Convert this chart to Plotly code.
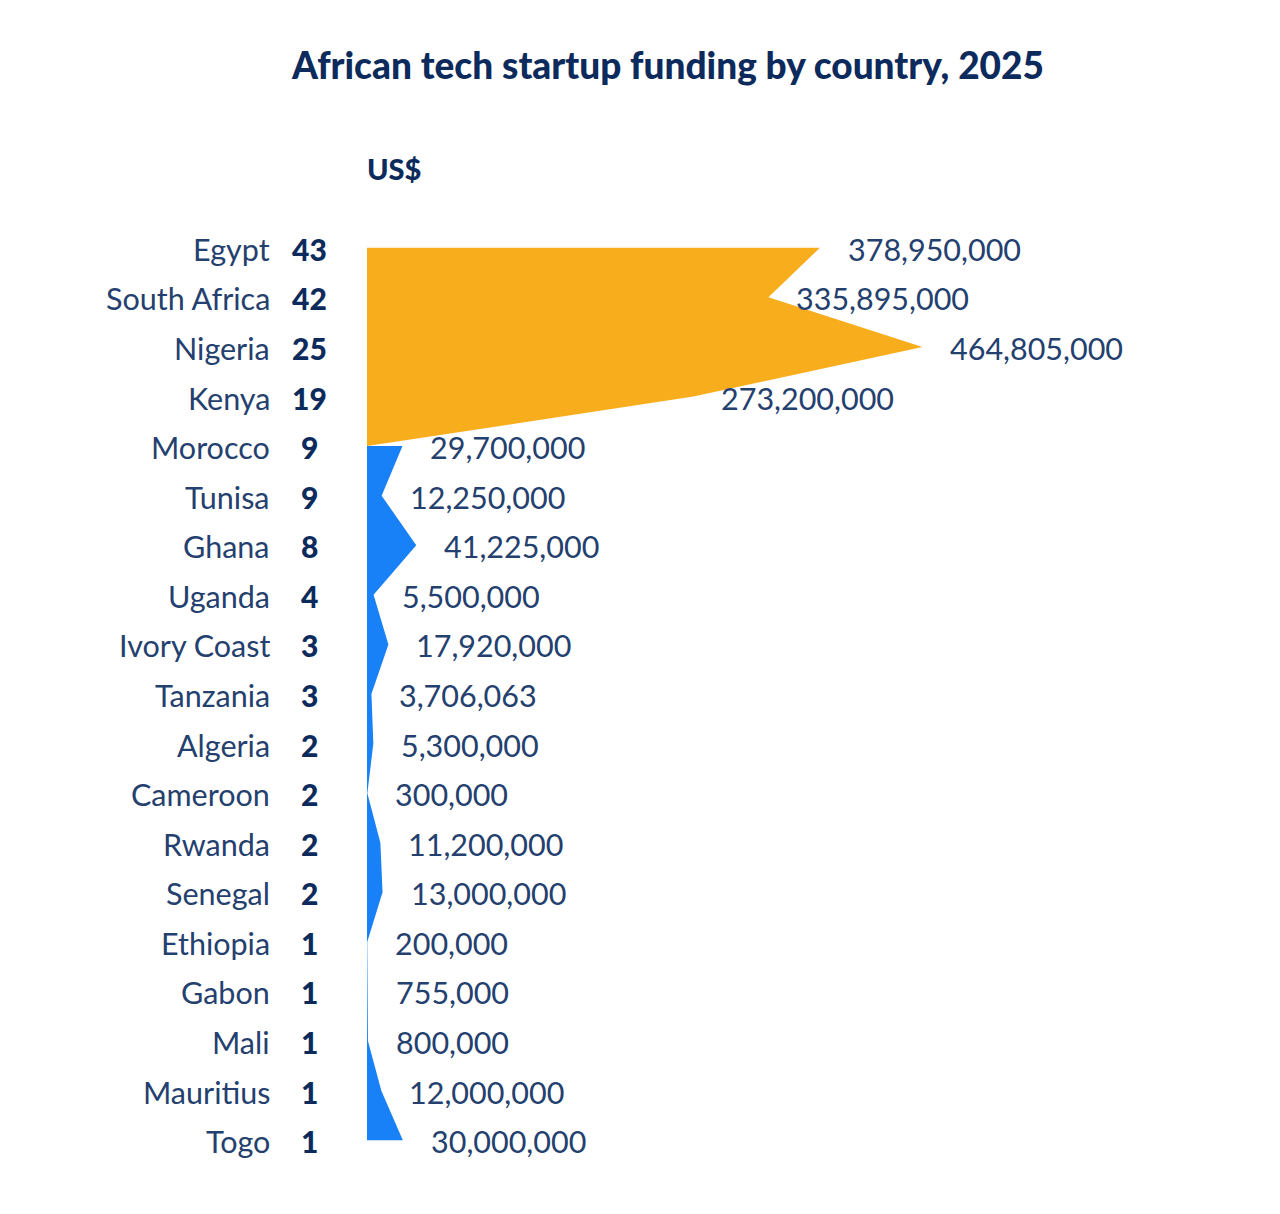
import plotly.graph_objects as go

countries = ["Egypt", "South Africa", "Nigeria", "Kenya", "Morocco", "Tunisa", "Ghana",
             "Uganda", "Ivory Coast", "Tanzania", "Algeria", "Cameroon", "Rwanda",
             "Senegal", "Ethiopia", "Gabon", "Mali", "Mauritius", "Togo"]
deals = [43, 42, 25, 19, 9, 9, 8, 4, 3, 3, 2, 2, 2, 2, 1, 1, 1, 1, 1]
funding = [378950000, 335895000, 464805000, 273200000, 29700000, 12250000, 41225000,
           5500000, 17920000, 3706063, 5300000, 300000, 11200000, 13000000, 200000,
           755000, 800000, 12000000, 30000000]
top_n = 4

ORANGE = "#F8AD1C"
BLUE = "#1881F7"
NAVY = "#0C2B5C"
LABEL = "#24406E"
FONT = "Lato"

fig = go.Figure()

# top group (orange), closing back to zero at the next row
fig.add_trace(go.Scatter(
    x=funding[:top_n] + [0], y=countries[:top_n + 1],
    mode="lines", line=dict(width=0, color=ORANGE),
    fill="tozerox", fillcolor=ORANGE, hoverinfo="skip", showlegend=False))

# remaining countries (blue)
fig.add_trace(go.Scatter(
    x=funding[top_n:], y=countries[top_n:],
    mode="lines", line=dict(width=0, color=BLUE),
    fill="tozerox", fillcolor=BLUE, hoverinfo="skip", showlegend=False))

annotations = []
for c, n, v in zip(countries, deals, funding):
    annotations.append(dict(x=v, y=c, xref="x", yref="y", text=f"{v:,}",
                            xanchor="left", yanchor="middle", xshift=26, yshift=-1,
                            showarrow=False, font=dict(family=FONT, size=30.5, color=LABEL)))
    annotations.append(dict(x=0, y=c, xref="paper", yref="y", text=c,
                            xanchor="right", yanchor="middle", xshift=-95, yshift=-1,
                            showarrow=False, font=dict(family=FONT, size=30.5, color=LABEL)))
    annotations.append(dict(x=0, y=c, xref="paper", yref="y", text=str(n),
                            xanchor="center", yanchor="middle", xshift=-58, yshift=-1,
                            showarrow=False,
                            font=dict(family=FONT, size=30, color=NAVY, weight=900)))

annotations.append(dict(x=0, y=1, xref="paper", yref="paper", text="US$",
                        xanchor="left", yanchor="middle", yshift=55, xshift=-2,
                        showarrow=False,
                        font=dict(family=FONT, size=29, color=NAVY, weight=900)))

fig.update_layout(
    width=1280, height=1214,
    margin=dict(l=367, r=40, t=223, b=49),
    paper_bgcolor="white", plot_bgcolor="white",
    title=dict(text="African tech startup funding by country, 2025",
               x=668 / 1280, xref="container", xanchor="center",
               y=1 - 66 / 1214, yref="container", yanchor="middle",
               font=dict(family=FONT, size=37, color=NAVY, weight=900)),
    xaxis=dict(range=[0, 730.5e6], showgrid=False, zeroline=False,
               showticklabels=False, showline=False, fixedrange=True),
    yaxis=dict(type="category", categoryorder="array", categoryarray=countries,
               range=[len(countries) - 0.5, -0.5], showgrid=False, zeroline=False,
               showticklabels=False, showline=False, fixedrange=True),
    annotations=annotations,
)

fig.write_html("out.html")
